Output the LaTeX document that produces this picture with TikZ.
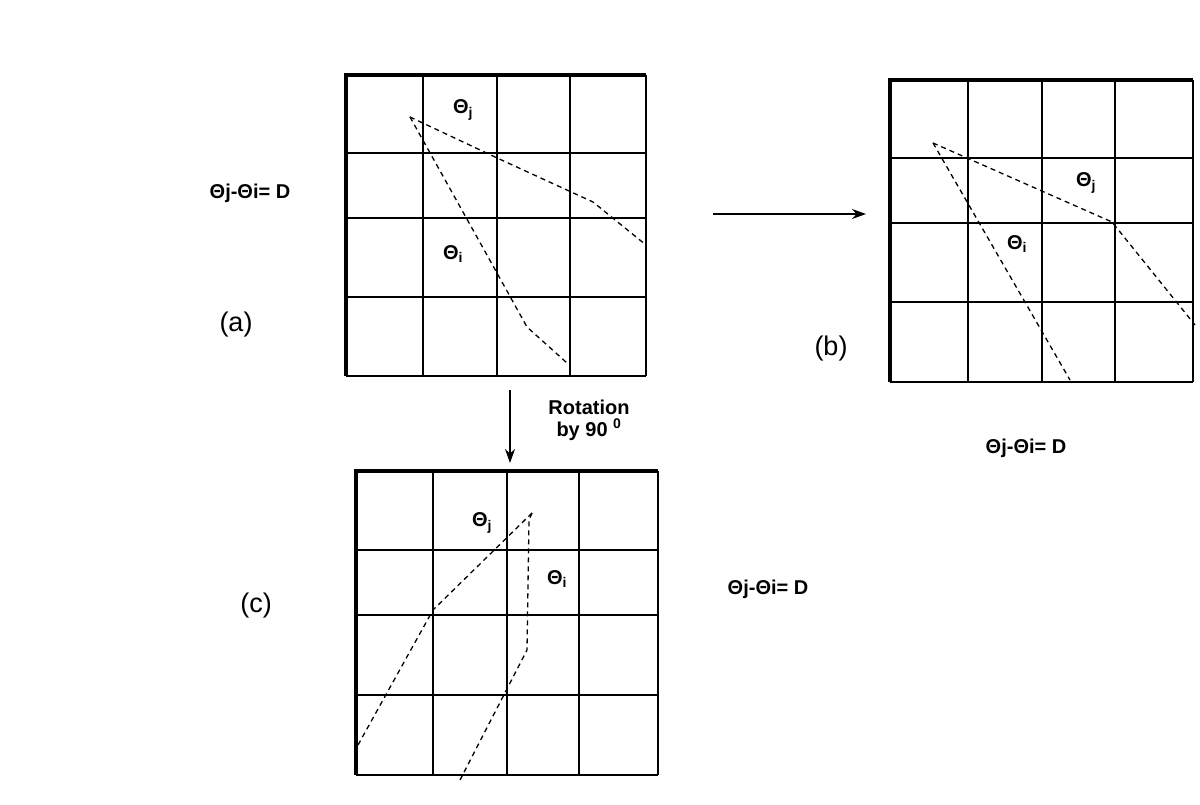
\documentclass[tikz,border=0pt]{standalone}
\usepackage{fontspec}
\setmainfont{Liberation Sans}
\usetikzlibrary{arrows.meta}
\begin{document}
\begin{tikzpicture}[x=1pt,y=-1pt,
  gl/.style={line width=1.8pt},
  thick border/.style={line width=4.5pt},
  dl/.style={line width=1.3pt,dash pattern=on 5pt off 4pt},
  lab/.style={font=\bfseries\fontsize{20}{22}\selectfont},
  captxt/.style={font=\fontsize{27}{30}\selectfont},
  arr/.style={line width=1.5pt,-{Stealth[length=14pt,width=10pt]}}]
\useasboundingbox (0,0) rectangle (1200,805);
% grid a
\foreach \x in {423,497,570,646} \draw[gl] (\x,75) -- (\x,376);
\foreach \y in {153,218,297,376} \draw[gl] (346,\y) -- (646,\y);
\draw[thick border] (346,376) -- (346,75) -- (646,75);
\draw[dl] (410,117) -- (495,157) -- (593,202) -- (646,245);
\draw[dl] (410,117) -- (497,273) -- (527,327) -- (567,363);
\node[lab] (aj) at (463,110) {Θ\textsubscript{j}};
\node[lab] (ai) at (453,254) {Θ\textsubscript{i}};
% grid b
\foreach \x in {968,1042,1115,1193} \draw[gl] (\x,80) -- (\x,382);
\foreach \y in {158,223,302,382} \draw[gl] (890,\y) -- (1193,\y);
\draw[thick border] (890,382) -- (890,80) -- (1193,80);
\draw[dl] (933,143) -- (1112,222) -- (1195,325);
\draw[dl] (933,143) -- (1070,380);
\node[lab] (bj) at (1086,183) {Θ\textsubscript{j}};
\node[lab] (bi) at (1017,244) {Θ\textsubscript{i}};
% grid c
\foreach \x in {433,507,579,658} \draw[gl] (\x,471) -- (\x,775);
\foreach \y in {550,615,695,775} \draw[gl] (356,\y) -- (658,\y);
\draw[thick border] (356,775) -- (356,471) -- (658,471);
\draw[dl] (532,513) -- (433,610) -- (358,745);
\draw[dl] (532,513) -- (529,520) -- (527,650) -- (460,780);
\node[lab] (cj) at (482,523) {Θ\textsubscript{j}};
\node[lab] (ci) at (557,579) {Θ\textsubscript{i}};
% labels
\node[lab] (ea) at (250,193) {Θj-Θi= D};
\node[lab] (eb) at (1026,448) {Θj-Θi= D};
\node[lab] (ec) at (768,589) {Θj-Θi= D};
\node[captxt] (la) at (236,325) {(a)};
\node[captxt] (lb) at (831,349) {(b)};
\node[captxt] (lc) at (256,606) {(c)};
\node[lab,align=center] (rot) at (589,420) {Rotation\\by 90 \textsuperscript{0}};
% arrows
\coordinate (a1) at (713,214); \coordinate (a2) at (866,214);
\draw[arr] (a1) -- (a2);
\coordinate (b1) at (510,390); \coordinate (b2) at (510,463);
\draw[arr] (b1) -- (b2);
\end{tikzpicture}
\end{document}
